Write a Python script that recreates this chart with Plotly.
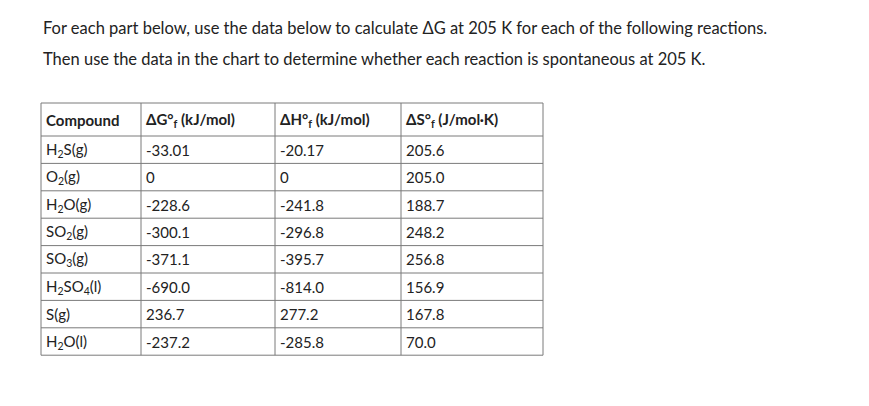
import plotly.graph_objects as go

compounds = ["H<sub>2</sub>S(g)", "O<sub>2</sub>(g)", "H<sub>2</sub>O(g)", "SO<sub>2</sub>(g)",
             "SO<sub>3</sub>(g)", "H<sub>2</sub>SO<sub>4</sub>(l)", "S(g)", "H<sub>2</sub>O(l)"]
dG = ["-33.01", "0", "-228.6", "-300.1", "-371.1", "-690.0", "236.7", "-237.2"]
dH = ["-20.17", "0", "-241.8", "-296.8", "-395.7", "-814.0", "277.2", "-285.8"]
dS = ["205.6", "205.0", "188.7", "248.2", "256.8", "156.9", "167.8", "70.0"]
headers = ["<b>Compound</b>", "<b>ΔG°<sub>f</sub> (kJ/mol)</b>",
           "<b>ΔH°<sub>f</sub> (kJ/mol)</b>", "<b>ΔS°<sub>f</sub> (J/mol·K)</b>"]
lines = [
    "For each part below, use the data below to calculate ΔG at 205 K for each of the following reactions.",
    "Then use the data in the chart to determine whether each reaction is spontaneous at 205 K.",
]

W, H = 869, 406
ink = "#222222"
col_x = [33, 133, 267, 393, 535]
top, head_h, row_h = 95, 33, 27.4

fig = go.Figure()

columns = [compounds, dG, dH, dS]
n_rows = len(compounds)
row_y = [top, top + head_h] + [top + head_h + row_h * (i + 1) for i in range(n_rows)]

# grid lines
for x in col_x:
    fig.add_shape(type="line", x0=x, x1=x, y0=row_y[0], y1=row_y[-1],
                  line=dict(color="#7a7a7a", width=1))
for y in row_y:
    fig.add_shape(type="line", x0=col_x[0], x1=col_x[-1], y0=y, y1=y,
                  line=dict(color="#7a7a7a", width=1))

def cell_text(text, c, r, bold=False):
    fig.add_annotation(text=text, x=col_x[c] + 3, y=(row_y[r] + row_y[r + 1]) / 2,
                       xref="x", yref="y", xanchor="left", yanchor="middle",
                       showarrow=False,
                       font=dict(family="Lato", size=15, color=ink))

for c, h in enumerate(headers):
    cell_text(h, c, 0)
for c, col in enumerate(columns):
    for r, v in enumerate(col):
        cell_text(v, c, r + 1)

for i, t in enumerate(lines):
    fig.add_annotation(text=t, x=33, y=20 + 31 * i, xref="x", yref="y",
                       xanchor="left", yanchor="middle", showarrow=False,
                       font=dict(family="Lato", size=16.5, color=ink))

fig.update_xaxes(range=[0, W], visible=False, fixedrange=True)
fig.update_yaxes(range=[H, 0], visible=False, fixedrange=True)
fig.update_layout(width=W, height=H, margin=dict(l=0, r=0, t=0, b=0),
                  paper_bgcolor="white", plot_bgcolor="white", showlegend=False)
fig.write_html("out.html")
